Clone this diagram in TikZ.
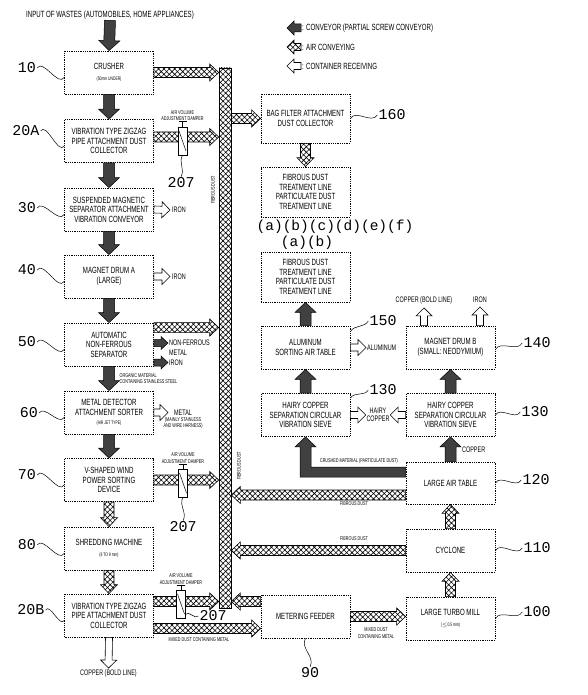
\documentclass[tikz,border=0pt]{standalone}
\usepackage{fontspec}
\setmainfont{Liberation Sans}
\newfontfamily\cond[FakeStretch=0.68]{Liberation Sans}
\newfontfamily\numfont{Liberation Mono}
\usetikzlibrary{calc,positioning,patterns.meta}

\newcommand{\boxfont}{\cond\fontsize{9}{9.5}\selectfont}
\newcommand{\smalltxt}{\fontsize{5}{6}\selectfont}

% fat arrow drawn as an outline between two points
\tikzset{
  fat w/.store in=\fatw, fat h/.store in=\fath, fat l/.store in=\fatl,
  fat w=4.5pt, fat h=8pt, fat l=9pt,
  fat/.style={to path={let \p1=(\tikztostart), \p2=(\tikztotarget),
      \n1={atan2(\y2-\y1,\x2-\x1)} in
      ($(\p1)+(\n1+90:\fatw)$) -- ($(\p2)+(\n1+180:\fatl)+(\n1+90:\fatw)$)
      -- ($(\p2)+(\n1+180:\fatl)+(\n1+90:\fath)$) -- (\p2)
      -- ($(\p2)+(\n1+180:\fatl)+(\n1-90:\fath)$)
      -- ($(\p2)+(\n1+180:\fatl)+(\n1-90:\fatw)$)
      -- ($(\p1)+(\n1-90:\fatw)$) -- cycle}},
}

\begin{document}
\begin{tikzpicture}[x=1pt, y=-1pt,
  box/.style={rectangle, draw, densely dotted, line width=0.8pt, minimum width=89pt, minimum height=43pt, inner sep=1pt, align=center, font=\boxfont},
  num/.style={font=\numfont\fontsize{15}{15}\selectfont, inner sep=1pt},
  lbl/.style={font=\cond\fontsize{8}{8.5}\selectfont, inner sep=1pt, align=center},
  tinylbl/.style={font=\cond\fontsize{5.5}{6.5}\selectfont, inner sep=0.5pt, align=center},
  lead/.style={line width=0.5pt},
  conv/.style={fat, fat w=5.5pt, fat h=10.5pt, fat l=10pt, draw=black, line width=0.5pt, fill=black!75},
  air/.style={fat, fat w=5pt, fat h=8.5pt, fat l=9pt, draw=black, line width=0.6pt, pattern={Hatch[angle=45,distance=3.8pt,line width=0.6pt]}},
  cont/.style={fat, fat w=3.5pt, fat h=8pt, fat l=8pt, draw=black, line width=0.6pt, fill=white},
  pipe/.style={draw, line width=0.6pt, minimum width=12pt, minimum height=540pt, inner sep=0pt, pattern={Hatch[angle=45,distance=3.8pt,line width=0.6pt]}},
  damper/.style={draw, fill=white, line width=0.5pt, minimum width=9pt, minimum height=28pt, inner sep=0pt,
    path picture={\draw ($(path picture bounding box.north west)+(1,4)$) -- ($(path picture bounding box.south east)+(-1,-4)$);}},
]
\path[use as bounding box, fill=white] (0,0) rectangle (588,695);

% Legend
\coordinate (lg1) at (287,28);
\coordinate (lg2) at (287,47);
\coordinate (lg3) at (287,66);
\node[lbl, anchor=west, font=\cond\fontsize{9}{9}\selectfont] (lgt1) at (301,28) {: CONVEYOR (PARTIAL SCREW CONVEYOR)};
\node[lbl, anchor=west, font=\cond\fontsize{9}{9}\selectfont] (lgt2) at (301,47) {: AIR CONVEYING};
\node[lbl, anchor=west, font=\cond\fontsize{9}{9}\selectfont] (lgt3) at (301,66) {: CONTAINER RECEIVING};
\draw[conv, fat w=4pt, fat h=7pt, fat l=7pt] (lgt1.west) to (lg1);
\draw[air, fat w=3.5pt, fat h=7pt, fat l=7pt] (lgt2.west) to (lg2);
\draw[cont, fat w=3.5pt, fat h=7pt, fat l=7pt] (lgt3.west) to (lg3);

% Main line (left column)
\node[lbl, font=\cond\fontsize{9}{9}\selectfont] (input) at (110,15) {INPUT OF WASTES (AUTOMOBILES, HOME APPLIANCES)};
\node[box] (crusher) at (109,72.5) {CRUSHER\\[1pt]{\smalltxt (50mm UNDER)}};
\node[box] (zzA) at (109,141) {VIBRATION TYPE ZIGZAG\\PIPE ATTACHMENT DUST\\COLLECTOR};
\node[box] (mag) at (109,209.5) {SUSPENDED MAGNETIC\\SEPARATOR ATTACHMENT\\VIBRATION CONVEYOR};
\node[box] (drumA) at (109,276.5) {MAGNET DRUM A\\(LARGE)};
\node[box] (sep) at (109,344.5) {AUTOMATIC\\NON-FERROUS\\SEPARATOR};
\node[box] (detect) at (109,412.5) {METAL DETECTOR\\ATTACHMENT SORTER\\{\smalltxt (AIR JET TYPE)}};
\node[box] (wind) at (109,480) {V-SHAPED WIND\\POWER SORTING\\DEVICE};
\node[box] (shred) at (109,548.5) {SHREDDING MACHINE\\[1pt]{\smalltxt (8 TO 9 mm)}};
\node[box] (zzB) at (109,615.5) {VIBRATION TYPE ZIGZAG\\PIPE ATTACHMENT DUST\\COLLECTOR};

\node[num] (l10) at (27,68) {10};
\node[num] (l20A) at (26,131) {20A};
\node[num] (l30) at (27,208) {30};
\node[num] (l40) at (27,270) {40};
\node[num] (l50) at (27,342) {50};
\node[num] (l60) at (29,413) {60};
\node[num] (l70) at (27,475) {70};
\node[num] (l80) at (27,545) {80};
\node[num] (l20B) at (31,610) {20B};
\foreach \l/\b in {l10/crusher, l20A/zzA, l30/mag, l40/drumA, l50/sep, l60/detect, l70/wind, l80/shred, l20B/zzB}
  \draw[lead] (\l.east) to[out=60,in=240] ($(\b.west)+(0,5)$);

\foreach \a/\b in {input/crusher, crusher/zzA, zzA/mag, mag/drumA, drumA/sep, sep/detect, detect/wind}
  \draw[conv] (\a.south) to (\b.north);
\draw[air] (wind.south) to (shred.north);
\draw[air] (shred.south) to (zzB.north);

% Side outputs
\node[lbl, anchor=west, inner xsep=2pt] (iron1) at (170,210) {IRON};
\node[lbl, anchor=west, inner xsep=2pt] (iron2) at (170,276.5) {IRON};
\draw[cont] (mag.east) to (iron1.west);
\draw[cont] (drumA.east) to (iron2.west);
\node[lbl, anchor=west] (nf1) at (168,343) {NON-FERROUS};
\node[lbl, anchor=west] (nf2) at (168,353) {METAL};
\node[lbl, anchor=west] (nf3) at (168,362.5) {IRON};
\draw[conv, fat w=3.5pt, fat h=6.5pt, fat l=7pt] (sep.east |- nf1) to (nf1.west);
\draw[conv, fat w=3.5pt, fat h=6.5pt, fat l=7pt] (sep.east |- nf3) to (nf3.west);
\node[tinylbl, anchor=west, align=left] (organic) at (119,378.5) {ORGANIC MATERIAL\\CONTAINING STAINLESS STEEL};
\node[lbl, anchor=west, inner xsep=6pt] (metal) at (168,412.5) {METAL};
\node[tinylbl, below=0pt of metal] (mainly) {(MAINLY STAINLESS\\AND WIRE HARNESS)};
\draw[cont] (detect.east) to (metal.west);
\node[lbl] (copperB) at (108.5,673) {COPPER (BOLD LINE)};
\draw[cont] (zzB.south) to (copperB.north);

% Air pipe for fibrous dust
\node[pipe] (pipe) at (225,338) {};
\node[tinylbl, rotate=90] (fdv1) at (213,190) {FIBROUS DUST};
\node[tinylbl, rotate=90] (fdv2) at (239,466) {FIBROUS DUST};

\coordinate (aA) at ($(zzA.east)+(0,-4)$);
\coordinate (aS) at ($(sep.north east)+(0,5)$);
\coordinate (aB1) at ($(zzB.east)+(0,-14)$);
\coordinate (aB2) at ($(zzB.east)+(0,13)$);
\draw[air] (crusher.east) to (pipe.west |- crusher.east);
\draw[air] (aA) to (pipe.west |- aA);
\draw[air] (aS) to (pipe.west |- aS);
\draw[air] (wind.east) to (pipe.west |- wind.east);
\draw[air] (aB1) to (pipe.west |- aB1);

% Dampers
\node[damper] (dA) at (182.5,141) {};
\node[damper] (dW) at (183,483) {};
\node[damper] (dB) at (181,604) {};
\foreach \d in {dA,dW,dB}
  \draw[line width=0.5pt] (\d.north) -- ++(0,-5) ++(-4,0) -- ++(8,0);
\node[tinylbl, above=5pt of dA] (tA) {AIR VOLUME\\ADJUSTMENT DAMPER};
\node[tinylbl, above=5pt of dW] (tW) {AIR VOLUME\\ADJUSTMENT DAMPER};
\node[tinylbl, above=5pt of dB] (tB) {AIR VOLUME\\ADJUSTMENT DAMPER};
\node[num] (l207a) at (181,183) {207};
\node[num] (l207b) at (183,527) {207};
\node[num] (l207c) at (213,616) {207};
\draw[lead] (dA.south) to[out=-120,in=60] (l207a.north);
\draw[lead] (dW.south) to[out=-120,in=60] (l207b.north);
\draw[lead] ($(dB.south east)+(0,-4)$) to[out=60,in=240] (l207c.west);

% Middle column
\node[box, minimum height=49pt] (bag) at (305.5,118.5) {BAG FILTER ATTACHMENT\\DUST COLLECTOR};
\node[box, minimum height=50pt] (fib1) at (305.5,192) {FIBROUS DUST\\TREATMENT LINE\\PARTICULATE DUST\\TREATMENT LINE};
\node[num, font=\numfont\fontsize{14.5}{15}\selectfont] (abcf) at (335,227) {(a)(b)(c)(d)(e)(f)};
\node[num, font=\numfont\fontsize{14.5}{15}\selectfont] (ab) at (307,243) {(a)(b)};
\node[box, minimum height=50pt] (fib2) at (305.5,277) {FIBROUS DUST\\TREATMENT LINE\\PARTICULATE DUST\\TREATMENT LINE};
\node[box] (alum) at (305.5,347.5) {ALUMINUM\\SORTING AIR TABLE};
\node[box] (hairyL) at (305.5,415) {HAIRY COPPER\\SEPARATION CIRCULAR\\VIBRATION SIEVE};
\node[box] (meter) at (305.5,616.5) {METERING FEEDER};

\draw[air] (pipe.east |- bag.west) to (bag.west);
\draw[air] (bag.south) to (fib1.north);
\draw[conv] (alum.north) to (fib2.south);
\draw[conv] (hairyL.north) to (alum.south);

\node[lbl, anchor=west, inner xsep=1pt] (alu) at (366,347.5) {ALUMINUM};
\draw[cont] (alum.east) to (alu.west);
\node[lbl, inner sep=0.5pt] (hc) at (378,415) {HAIRY\\COPPER};

% Right column
\node[box] (magB) at (450.5,347.5) {MAGNET DRUM B\\(SMALL: NEODYMIUM)};
\node[box] (hairyR) at (450.5,415) {HAIRY COPPER\\SEPARATION CIRCULAR\\VIBRATION SIEVE};
\node[box, minimum height=42pt] (large) at (450.5,483) {LARGE AIR TABLE};
\node[box] (cyclone) at (450.5,550.5) {CYCLONE};
\node[box] (turbo) at (450.5,618.5) {LARGE TURBO MILL\\[1pt]{\smalltxt ($\leq$0.5 mm)}};

\draw[cont] (hairyL.east) to (hc.west);
\draw[cont] (hairyR.west) to (hc.east);
\draw[conv] (hairyR.north) to (magB.south);
\draw[conv] (large.north) to (hairyR.south);
\node[lbl, anchor=west] (cuR) at (461,450) {COPPER};
\node[lbl, inner ysep=4pt] (cuB) at (424,300) {COPPER (BOLD LINE)};
\node[lbl, inner ysep=4pt] (ironB) at (480,300) {IRON};
\draw[cont] (magB.north -| cuB) to (cuB.south);
\draw[cont] (magB.north -| ironB) to (ironB.south);

% Crushed material back to the hairy copper sieve
\draw[conv] ($(large.west)+(0,-16)$) -| ($(hairyL.south)+(5.5,10)$) -- ++(5,0) -- (hairyL.south)
  -- ++(-10.5,10) -- ++(5,0) |- ($(large.west)+(0,-6)$) -- cycle;
\node[tinylbl] (crushed) at (359,461) {CRUSHED MATERIAL (PARTICULATE DUST)};

\coordinate (aL) at ($(large.west)+(0,12)$);
\coordinate (aM) at ($(meter.west)+(0,-15)$);
\draw[air] (aL) to (pipe.east |- aL);
\draw[air] (cyclone.west) to (pipe.east |- cyclone.west);
\draw[air] (aM) to (pipe.east |- aM);
\draw[air] (aB2) to (meter.west |- aB2);
\draw[air] (meter.east) to (turbo.west |- meter.east);
\draw[air] (turbo.north) to (cyclone.south);
\draw[air] (cyclone.north) to (large.south);
\node[tinylbl] (fd1) at (354,504) {FIBROUS DUST};
\node[tinylbl] (fd2) at (354,539) {FIBROUS DUST};
\node[tinylbl] (mix1) at (199,640) {MIXED DUST CONTAINING METAL};
\node[tinylbl] (mix2) at (376,633) {MIXED DUST\\CONTAINING METAL};

% Reference numerals (right)
\node[num] (l160) at (392,115) {160};
\node[num] (l150) at (383,321) {150};
\node[num] (l130a) at (383,390) {130};
\node[num] (l140) at (537,343) {140};
\node[num] (l130b) at (535,412) {130};
\node[num] (l120) at (536,480) {120};
\node[num] (l110) at (537,548) {110};
\node[num] (l100) at (537,612) {100};
\node[num] (l90) at (310,673) {90};
\draw[lead] (bag.east) to[out=60,in=240] (l160.west);
\draw[lead] ($(alum.north east)+(0,6)$) to[out=60,in=240] (l150.west);
\draw[lead] ($(hairyL.north east)+(0,5)$) to[out=60,in=240] (l130a.west);
\draw[lead] ($(magB.east)+(0,2)$) to[out=60,in=240] (l140.west);
\draw[lead] (hairyR.east) to[out=60,in=240] (l130b.west);
\draw[lead] (large.east) to[out=60,in=240] (l120.west);
\draw[lead] (cyclone.east) to[out=60,in=240] (l110.west);
\draw[lead] (turbo.east) to[out=60,in=240] (l100.west);
\draw[lead] (meter.south) to[out=-120,in=60] (l90.north);
\end{tikzpicture}
\end{document}
